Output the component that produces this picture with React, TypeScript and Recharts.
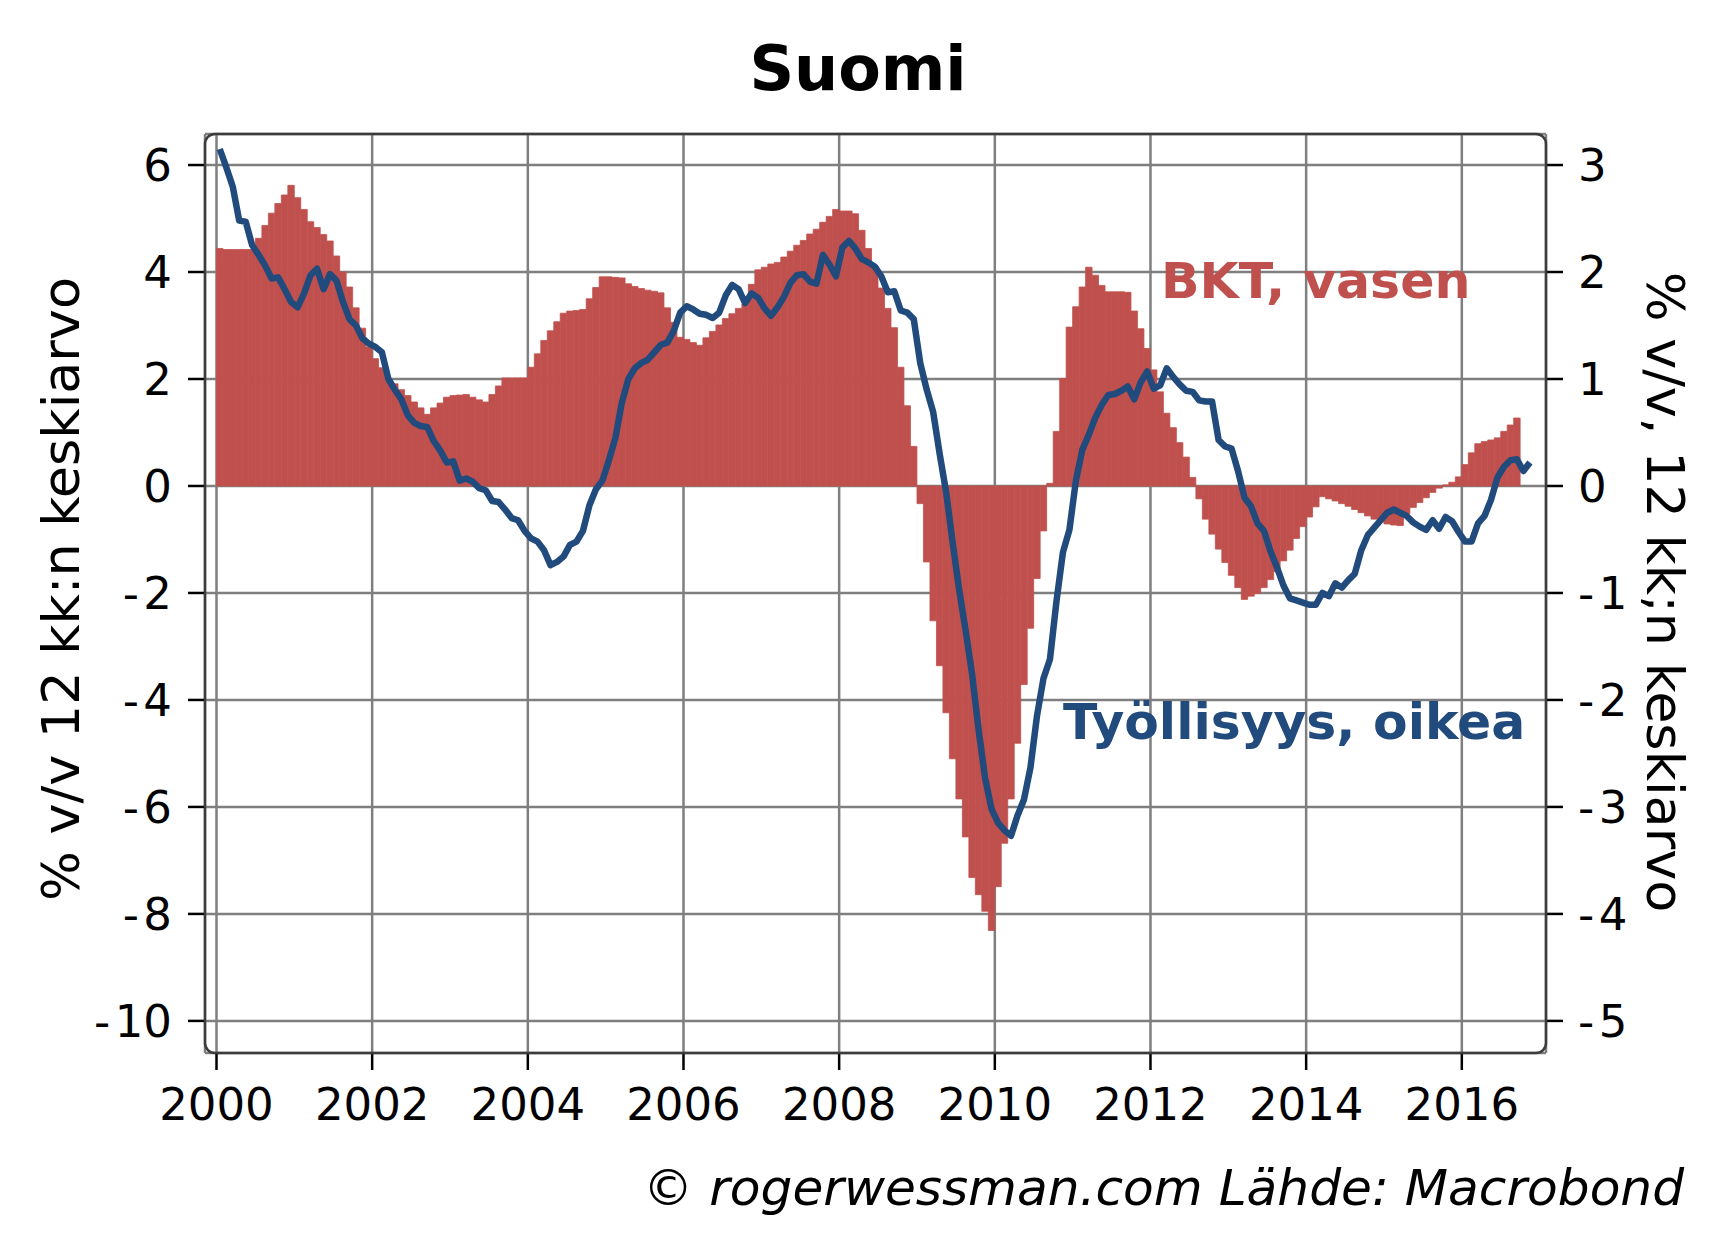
import { ComposedChart, Bar, Line, XAxis, YAxis, CartesianGrid } from "recharts";

// BKT, % v/v (vasen akseli), kuukausittain tammikuusta 2000
const gdp = [
  4.44, 4.42, 4.42, 4.42, 4.42, 4.42, 4.63, 4.87, 5.1, 5.28, 5.44, 5.62,
  5.39, 5.17, 4.94, 4.83, 4.7, 4.58, 4.3, 4.0, 3.72, 3.33, 2.95, 2.6,
  2.38, 2.21, 2.0, 1.91, 1.8, 1.69, 1.57, 1.46, 1.34, 1.46, 1.55, 1.66,
  1.69, 1.7, 1.71, 1.66, 1.61, 1.57, 1.71, 1.87, 2.02, 2.02, 2.02, 2.02,
  2.22, 2.47, 2.72, 2.9, 3.07, 3.23, 3.27, 3.28, 3.3, 3.5, 3.71, 3.91,
  3.91, 3.9, 3.89, 3.78, 3.73, 3.69, 3.66, 3.64, 3.61, 3.33, 3.06, 2.78,
  2.74, 2.68, 2.63, 2.77, 2.89, 3.01, 3.13, 3.22, 3.32, 3.4, 3.77, 4.04,
  4.09, 4.15, 4.18, 4.28, 4.39, 4.5, 4.59, 4.71, 4.8, 4.93, 5.04, 5.17,
  5.14, 5.14, 5.09, 4.78, 4.44, 4.11, 3.7, 3.32, 2.96, 2.22, 1.5, 0.74,
  -0.33, -1.42, -2.52, -3.36, -4.24, -5.1, -5.85, -6.56, -7.32, -7.64, -7.95, -8.31,
  -7.49, -6.68, -5.85, -4.81, -3.71, -2.66, -1.73, -0.84, 0.05, 1.02, 2.01, 2.97,
  3.35, 3.72, 4.09, 3.94, 3.75, 3.63, 3.63, 3.63, 3.62, 3.27, 2.94, 2.57,
  2.17, 1.76, 1.36, 1.09, 0.81, 0.54, 0.16, -0.24, -0.62, -0.9, -1.18, -1.43,
  -1.67, -1.9, -2.12, -2.06, -2.01, -1.9, -1.75, -1.6, -1.4, -1.2, -0.98, -0.76,
  -0.58, -0.39, -0.2, -0.24, -0.28, -0.33, -0.38, -0.44, -0.5, -0.56, -0.62, -0.67,
  -0.71, -0.73, -0.74, -0.52, -0.4, -0.31, -0.22, -0.12, -0.04, 0.02, 0.07, 0.17,
  0.4, 0.62, 0.79, 0.83, 0.86, 0.9, 1.02, 1.14, 1.27,
];

// Työllisyys, % v/v 12 kk:n keskiarvo (oikea akseli), kuukausittain tammikuusta 2000
const employment = [
  3.15, 2.98, 2.8, 2.48, 2.47, 2.25, 2.16, 2.06, 1.94, 1.95, 1.84, 1.72,
  1.67, 1.8, 1.97, 2.03, 1.84, 1.98, 1.92, 1.72, 1.56, 1.5, 1.38, 1.33,
  1.3, 1.25, 1.0, 0.9, 0.81, 0.66, 0.59, 0.56, 0.55, 0.42, 0.33, 0.22,
  0.23, 0.05, 0.07, 0.04, -0.02, -0.04, -0.14, -0.15, -0.22, -0.3, -0.32, -0.42,
  -0.49, -0.52, -0.6, -0.74, -0.71, -0.66, -0.55, -0.52, -0.42, -0.18, -0.03, 0.05,
  0.24, 0.45, 0.78, 1.0, 1.1, 1.15, 1.18, 1.25, 1.32, 1.34, 1.45, 1.62,
  1.68, 1.65, 1.61, 1.6, 1.57, 1.62, 1.78, 1.88, 1.84, 1.71, 1.8, 1.76,
  1.66, 1.59, 1.67, 1.77, 1.9, 1.97, 1.98, 1.91, 1.89, 2.16, 2.07, 1.96,
  2.23, 2.29, 2.22, 2.12, 2.09, 2.05, 1.96, 1.81, 1.82, 1.64, 1.62, 1.56,
  1.15, 0.9, 0.69, 0.3, -0.06, -0.53, -0.97, -1.35, -1.76, -2.28, -2.73, -3.02,
  -3.15, -3.22, -3.27, -3.08, -2.93, -2.63, -2.15, -1.8, -1.62, -1.08, -0.62, -0.41,
  0.05, 0.34, 0.48, 0.64, 0.76, 0.85, 0.86, 0.89, 0.93, 0.81, 0.97, 1.07,
  0.91, 0.94, 1.1, 1.02, 0.95, 0.89, 0.88, 0.8, 0.79, 0.79, 0.43, 0.37,
  0.35, 0.14, -0.11, -0.19, -0.35, -0.42, -0.61, -0.76, -0.93, -1.05, -1.07, -1.09,
  -1.11, -1.11, -1.0, -1.03, -0.91, -0.95, -0.88, -0.82, -0.6, -0.46, -0.39, -0.32,
  -0.25, -0.22, -0.25, -0.28, -0.34, -0.38, -0.41, -0.32, -0.4, -0.29, -0.33, -0.43,
  -0.52, -0.52, -0.35, -0.28, -0.13, 0.08, 0.18, 0.24, 0.25, 0.14, 0.22,
];

const yearTicks = [2000, 2002, 2004, 2006, 2008, 2010, 2012, 2014, 2016];
const leftTicks = [-10, -8, -6, -4, -2, 0, 2, 4, 6];
const rightTicks = [-5, -4, -3, -2, -1, 0, 1, 2, 3];

const START_YEAR = 2000;

const data = employment.map((emp, i) => ({
  t: START_YEAR + (i + 0.5) / 12,
  gdp: i < gdp.length ? gdp[i] : null,
  emp,
}));

const W = 1718;
const H = 1250;
const PLOT = { left: 205, top: 134, right: 1546, bottom: 1053 };
const X_DOMAIN: [number, number] = [1999.8523, 2017.0817];
const LEFT_DOMAIN: [number, number] = [-10.6, 6.58];
const RIGHT_DOMAIN: [number, number] = [-5.3, 3.29];

const RED = "#C0504D";
const BLUE = "#214A7D";
const FONT = "DejaVu Sans";

const monthWidth = (PLOT.right - PLOT.left) / ((X_DOMAIN[1] - X_DOMAIN[0]) * 12);

const tickStyle = { fontSize: 45, fill: "#000", fontFamily: FONT };
const tickLine = { stroke: "#000", strokeWidth: 2.5 };
// a little more room after the minus sign, as in the original
const fmtNum = (v: number) => (v < 0 ? `-\u200A${Math.abs(v)}` : String(v));

export default function App() {
  return (
    <div style={{ position: "absolute", left: 0, top: 0, width: W, height: H, background: "#fff" }}>
      <ComposedChart
        width={W}
        height={H}
        data={data}
        margin={{ top: PLOT.top, left: PLOT.left - 100, right: W - PLOT.right - 100, bottom: H - PLOT.bottom - 60 }}
      >
        <CartesianGrid yAxisId="left" stroke="#7f7f7f" strokeWidth={2.5} />
        <XAxis
          dataKey="t"
          type="number"
          domain={X_DOMAIN}
          allowDataOverflow
          ticks={yearTicks}
          interval={0}
          height={60}
          axisLine={false}
          tickLine={tickLine}
          tickSize={17}
          tickMargin={18}
          tick={tickStyle}
        />
        <YAxis
          yAxisId="left"
          domain={LEFT_DOMAIN}
          allowDataOverflow
          ticks={leftTicks}
          interval={0}
          width={100}
          axisLine={false}
          tickLine={tickLine}
          tickSize={17}
          tickMargin={16}
          tick={tickStyle}
          tickFormatter={fmtNum}
        />
        <YAxis
          yAxisId="right"
          orientation="right"
          domain={RIGHT_DOMAIN}
          allowDataOverflow
          ticks={rightTicks}
          interval={0}
          width={100}
          axisLine={false}
          tickLine={tickLine}
          tickSize={17}
          tickMargin={15}
          tick={tickStyle}
          tickFormatter={fmtNum}
        />
        <Bar
          yAxisId="left"
          dataKey="gdp"
          fill={RED}
          stroke={RED}
          strokeWidth={0.8}
          barSize={monthWidth - 0.05}
          isAnimationActive={false}
        />
        <Line
          yAxisId="right"
          dataKey="emp"
          type="linear"
          stroke={BLUE}
          strokeWidth={6.5}
          strokeLinejoin="round"
          dot={false}
          activeDot={false}
          isAnimationActive={false}
        />
      </ComposedChart>
      <svg
        width={W}
        height={H}
        style={{ position: "absolute", left: 0, top: 0, pointerEvents: "none" }}
        fontFamily={FONT}
      >
        <rect
          x={PLOT.left}
          y={PLOT.top}
          width={PLOT.right - PLOT.left}
          height={PLOT.bottom - PLOT.top}
          rx={10}
          fill="none"
          stroke="#3c3c3c"
          strokeWidth={2.5}
        />
        <text x={858} y={90} textAnchor="middle" fontWeight="bold" fontSize={62}>
          Suomi
        </text>
        <text transform="translate(79,589) rotate(-90)" textAnchor="middle" fontSize={52.4}>
          % v/v 12 kk:n keskiarvo
        </text>
        <text transform="translate(1647,592) rotate(90)" textAnchor="middle" fontSize={52.4}>
          % v/v, 12 kk;n keskiarvo
        </text>
        <text x={1161} y={298} fontWeight="bold" fontSize={50.6} fill={RED}>
          BKT, vasen
        </text>
        <text x={1063} y={739} fontWeight="bold" fontSize={50.4} fill={BLUE}>
          Työllisyys, oikea
        </text>
        <text x={1684} y={1205} textAnchor="end" fontStyle="italic" fontSize={50.2}>
          © rogerwessman.com Lähde: Macrobond
        </text>
      </svg>
    </div>
  );
}
